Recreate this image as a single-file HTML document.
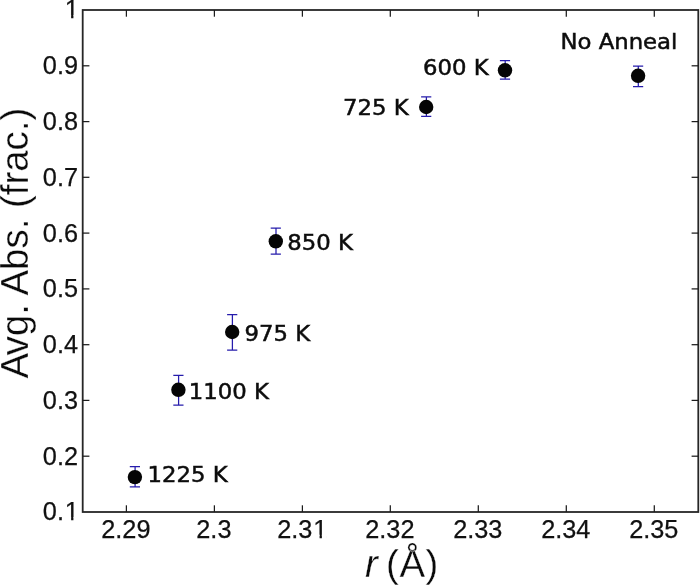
<!DOCTYPE html>
<html lang="en"><head><meta charset="utf-8"><title>Avg. Abs. vs r</title>
<style>
html,body{margin:0;padding:0;background:#fff;}
body{width:700px;height:585px;overflow:hidden;}
svg{display:block;will-change:transform;}
.tk{font-family:"Liberation Sans",Arial,Helvetica,sans-serif;font-size:25.3px;fill:#111;stroke:#111;stroke-width:0.25px;}
.ax{font-family:"Liberation Sans",Arial,Helvetica,sans-serif;font-size:38.4px;fill:#0a0a0a;stroke:#fff;stroke-width:0.3px;}
.lb{font-family:"DejaVu Sans","Liberation Sans",sans-serif;font-size:21.8px;fill:#0c0c0c;stroke:#0c0c0c;stroke-width:0.5px;}
</style></head><body>
<svg width="700" height="585" viewBox="0 0 700 585">
<rect x="0" y="0" width="700" height="585" fill="#ffffff"/>

<g class="tk">
<text x="101.28" y="537.9">2.29</text>
<text x="196.30" y="537.9">2.3</text>
<text x="277.24" y="537.9">2.3<tspan dx="0.85">1</tspan></text>
<rect x="314.27" y="534.70" width="5.32" height="4.40" fill="#fff" stroke="none"/><rect x="321.88" y="534.70" width="5.04" height="4.40" fill="#fff" stroke="none"/>
<text x="365.22" y="537.9">2.32</text>
<text x="453.20" y="537.9">2.33</text>
<text x="541.18" y="537.9">2.34</text>
<text x="629.16" y="537.9">2.35</text>
<text x="42.83" y="520.40">0.<tspan dx="0.85">1</tspan></text>
<rect x="65.80" y="517.20" width="5.32" height="4.40" fill="#fff" stroke="none"/><rect x="73.41" y="517.20" width="5.04" height="4.40" fill="#fff" stroke="none"/>
<text x="42.83" y="464.62">0.2</text>
<text x="42.83" y="408.84">0.3</text>
<text x="42.83" y="353.07">0.4</text>
<text x="42.83" y="297.29">0.5</text>
<text x="42.83" y="241.51">0.6</text>
<text x="42.83" y="185.73">0.7</text>
<text x="42.83" y="129.96">0.8</text>
<text x="42.83" y="74.18">0.9</text>
<text x="63.93" y="18.40"><tspan dx="0.85">1</tspan></text>
<rect x="65.80" y="15.20" width="5.32" height="4.40" fill="#fff" stroke="none"/><rect x="73.41" y="15.20" width="5.04" height="4.40" fill="#fff" stroke="none"/>
</g>
<rect x="82.7" y="10.0" width="615.6" height="502.0" stroke="#262626" stroke-width="1.8" fill="none"/>
<g stroke="#1c1c1c" stroke-width="1.25" fill="none" stroke-linecap="butt">
<line x1="126.4" y1="512.0" x2="126.4" y2="505.3"/>
<line x1="126.4" y1="10.0" x2="126.4" y2="16.7"/>
<line x1="214.4" y1="512.0" x2="214.4" y2="505.3"/>
<line x1="214.4" y1="10.0" x2="214.4" y2="16.7"/>
<line x1="302.4" y1="512.0" x2="302.4" y2="505.3"/>
<line x1="302.4" y1="10.0" x2="302.4" y2="16.7"/>
<line x1="390.3" y1="512.0" x2="390.3" y2="505.3"/>
<line x1="390.3" y1="10.0" x2="390.3" y2="16.7"/>
<line x1="478.3" y1="512.0" x2="478.3" y2="505.3"/>
<line x1="478.3" y1="10.0" x2="478.3" y2="16.7"/>
<line x1="566.3" y1="512.0" x2="566.3" y2="505.3"/>
<line x1="566.3" y1="10.0" x2="566.3" y2="16.7"/>
<line x1="654.3" y1="512.0" x2="654.3" y2="505.3"/>
<line x1="654.3" y1="10.0" x2="654.3" y2="16.7"/>
<line x1="82.7" y1="456.2" x2="89.4" y2="456.2"/>
<line x1="698.3" y1="456.2" x2="691.6" y2="456.2"/>
<line x1="82.7" y1="400.4" x2="89.4" y2="400.4"/>
<line x1="698.3" y1="400.4" x2="691.6" y2="400.4"/>
<line x1="82.7" y1="344.7" x2="89.4" y2="344.7"/>
<line x1="698.3" y1="344.7" x2="691.6" y2="344.7"/>
<line x1="82.7" y1="288.9" x2="89.4" y2="288.9"/>
<line x1="698.3" y1="288.9" x2="691.6" y2="288.9"/>
<line x1="82.7" y1="233.1" x2="89.4" y2="233.1"/>
<line x1="698.3" y1="233.1" x2="691.6" y2="233.1"/>
<line x1="82.7" y1="177.3" x2="89.4" y2="177.3"/>
<line x1="698.3" y1="177.3" x2="691.6" y2="177.3"/>
<line x1="82.7" y1="121.6" x2="89.4" y2="121.6"/>
<line x1="698.3" y1="121.6" x2="691.6" y2="121.6"/>
<line x1="82.7" y1="65.8" x2="89.4" y2="65.8"/>
<line x1="698.3" y1="65.8" x2="691.6" y2="65.8"/>
</g>
<text class="ax" transform="translate(28.3,378.5) rotate(-90)">A<tspan dx="-1.7">vg. Abs. (frac.)</tspan></text>
<text class="ax" y="576.9"><tspan font-style="italic" x="365">r</tspan><tspan x="376.8 386 399.45 425.55"> (Å)</tspan></text>
<g stroke="#261cac" stroke-width="1.25" fill="none">
<path d="M135.1 466.5V486.9M129.8 466.5H140.0M129.8 486.9H140.0"/>
<path d="M178.6 375.4V405.2M173.3 375.4H183.5M173.3 405.2H183.5"/>
<path d="M232.4 314.5V350.0M227.1 314.5H237.3M227.1 350.0H237.3"/>
<path d="M276.0 228.1V254.1M270.7 228.1H280.9M270.7 254.1H280.9"/>
<path d="M426.4 96.8V116.3M421.1 96.8H431.3M421.1 116.3H431.3"/>
<path d="M505.2 60.6V79.1M499.9 60.6H510.1M499.9 79.1H510.1"/>
<path d="M638.3 66.0V86.6M633.0 66.0H643.2M633.0 86.6H643.2"/>
</g>
<g fill="#050505">
<circle cx="134.9" cy="477.1" r="7.2"/>
<circle cx="178.4" cy="389.8" r="7.2"/>
<circle cx="232.2" cy="332.0" r="7.2"/>
<circle cx="275.8" cy="241.3" r="7.2"/>
<circle cx="426.2" cy="107.0" r="7.2"/>
<circle cx="505.0" cy="70.3" r="7.2"/>
<circle cx="638.1" cy="75.8" r="7.2"/>
</g>
<g class="lb">
<text transform="translate(147.5,482.1) scale(1.045,1)" text-anchor="start">1225 K</text>
<text transform="translate(188.8,399.0) scale(1.045,1)" text-anchor="start">1100 K</text>
<text transform="translate(244.5,341.4) scale(1.045,1)" text-anchor="start">975 K</text>
<text transform="translate(287.2,249.9) scale(1.045,1)" text-anchor="start">850 K</text>
<text transform="translate(408.7,115.1) scale(1.045,1)" text-anchor="end">725 K</text>
<text transform="translate(488.7,74.8) scale(1.045,1)" text-anchor="end">600 K</text>
<text transform="translate(677.4,48.7) scale(1.045,1)" text-anchor="end">No Anneal</text>
</g>
</svg></body></html>
